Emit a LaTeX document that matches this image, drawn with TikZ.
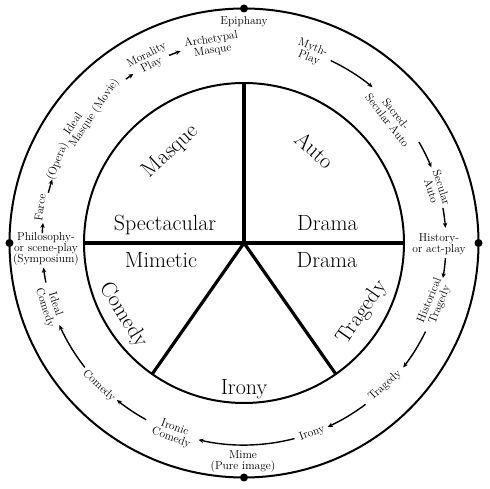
\documentclass[tikz,border=0pt]{standalone}
\usetikzlibrary{arrows.meta, positioning}

\begin{document}
\begin{tikzpicture}[
  x=1pt, y=1pt,
  BIG/.style ={font=\fontsize{22}{24}\selectfont, inner sep=0pt},
  SM/.style  ={font=\fontsize{11.5}{11}\selectfont, align=center, inner sep=0pt},
  AR/.style  ={-{Stealth[length=5pt, width=4.5pt]}, line width=1.4pt},
  DOT/.style ={circle, fill=black, inner sep=0pt, minimum size=8pt},
  RIM/.style ={line width=2pt},
  SPOKE/.style={line width=3.2pt}
]
  \useasboundingbox (-244,-246) rectangle (246,243);

  % circles and spokes
  \draw[RIM] (0,0) circle[radius=234.5];
  \draw[RIM] (0,0) circle[radius=160];
  \coordinate (hub) at (0,0);
  \draw[SPOKE] (180:160) -- (0:160);
  \foreach \ang in {90,235,305}
    \draw[SPOKE] (hub) -- (\ang:160);

  \node[DOT] (dN) at (90:234.5) {};
  \node[DOT] (dS) at (270:234.5) {};
  \node[DOT] (dW) at (180:234.5) {};
  \node[DOT] (dE) at (0:234.5) {};

  % inner sectors
  \node[BIG, rotate=43]  (masque)  at (-73,91.5)   {Masque};
  \node[BIG, rotate=-42] (auto)    at (71,93)      {Auto};
  \node[BIG]             (spect)   at (-79,18)     {Spectacular};
  \node[BIG]             (dramaA)  at (83.5,19.5)  {Drama};
  \node[BIG]             (mimetic) at (-83,-17.5)  {Mimetic};
  \node[BIG]             (dramaB)  at (83,-17)     {Drama};
  \node[BIG, rotate=-58] (comedy)  at (-120.5,-72) {Comedy};
  \node[BIG, rotate=55]  (tragedy) at (118.5,-69.5){Tragedy};
  \node[BIG]             (irony)   at (0,-146)     {Irony};

  % outer ring
  \node[SM]              (epiph)  at (90:221)       {Epiphany};
  \node[SM, rotate=-22]  (myth)   at (70.6:201.5)   {Myth-\\Play};
  \node[SM, rotate=-52]  (sacred) at (40.4:194)     {Sacred-\\Secular Auto};
  \node[SM, rotate=-72]  (secular) at (15.6:200)    {Secular\\Auto};
  \node[SM]              (hist)   at (195,-1)       {History-\\or act-play};
  \node[SM, rotate=68]   (histtr) at (-17.4:200)    {Historical\\Tragedy};
  \node[SM, rotate=42]   (trag)   at (-45.3:200.5)  {Tragedy};
  \node[SM, rotate=20]   (iron)   at (-70.3:202)    {Irony};
  \node[SM]              (mime)   at (-1,-218.5)    {Mime\\(Pure image)};
  \node[SM, rotate=-20]  (ironcom) at (-110.5:203)  {Ironic\\Comedy};
  \node[SM, rotate=-43]  (com)    at (-135.4:203.6) {Comedy};
  \node[SM, rotate=-72]  (idealcom) at (-162:204)   {Ideal\\Comedy};
  \node[SM]              (philo)  at (-198,-6)      {Philosophy-\\or scene-play\\(Symposium)};
  \node[SM, rotate=82]   (farce)  at (170.1:207)    {Farce};
  \node[SM, rotate=68]   (opera)  at (156.4:203.5)  {(Opera)};
  \node[SM, rotate=56, align=left] (idealmq) at (139.2:203.5)
    {\hspace{7pt}Ideal\\Masque (Movie)};
  \node[SM, rotate=27]   (moral)  at (117.4:206)    {Morality\\Play};
  \node[SM, rotate=9]    (arche)  at (99.2:200.5)   {Archetypal\\Masque};

  \foreach \a/\b in {64.6/50.5, 30/22, 10/4.3, -4.3/-10, -26/-38,
                     -53/-65.5, -75.5/-103, -119/-129, -142/-156,
                     -168.7/-173, 177.2/174.3, 165.6/161.7,
                     125.8/123.2, 111.8/108.3}
    \draw[AR] (\a:202) arc[start angle=\a, end angle=\b, radius=202];
\end{tikzpicture}
\end{document}
